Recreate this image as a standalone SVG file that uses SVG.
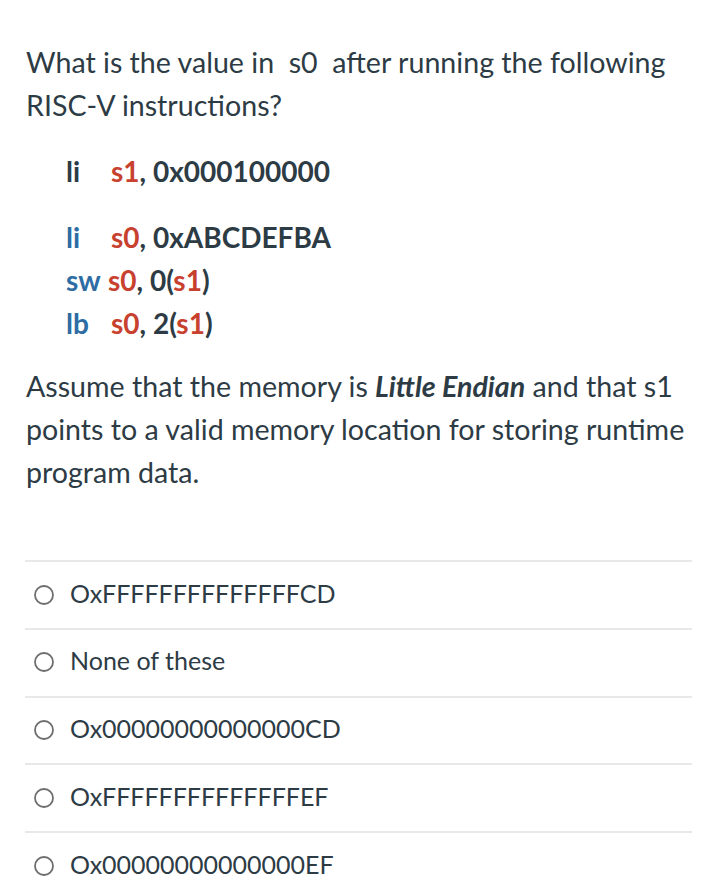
<svg xmlns="http://www.w3.org/2000/svg" width="710" height="890" viewBox="0 0 710 890">
<style>
text{font-family:Lato,"Liberation Sans",sans-serif;fill:#2d3b45}
.p{font-size:28.6px}
.c{font-size:28px;font-weight:bold}
.r{fill:#c8412f}
.b{fill:#2e6ca4}
.o{font-size:25px}
.sep{stroke:#e0e0e0;stroke-width:1.5}
.rad{fill:#fff;stroke:#6e6e6e;stroke-width:1.8}
</style>
<rect width="710" height="890" fill="#fff"/>
<text class="p" x="26" y="73" xml:space="preserve">What is the value in  s0  after running the following</text>
<text class="p" x="26" y="116">RISC-V instructions?</text>
<text class="c" x="66" y="182">li</text><text class="c" x="111" y="182"><tspan class="r">s1</tspan>, 0x000100000</text>
<text class="c b" x="66" y="248">li</text><text class="c" x="111" y="248"><tspan class="r">s0</tspan>, 0xABCDEFBA</text>
<text class="c b" x="66" y="291">sw</text><text class="c" x="108" y="291"><tspan class="r">s0</tspan>, 0(<tspan class="r">s1</tspan>)</text>
<text class="c b" x="66" y="334">lb</text><text class="c" x="111" y="334"><tspan class="r">s0</tspan>, 2(<tspan class="r">s1</tspan>)</text>
<text class="p" x="26" y="397">Assume that the memory is <tspan font-weight="bold" font-style="italic">Little Endian</tspan> and that s1</text>
<text class="p" x="26" y="440">points to a valid memory location for storing runtime</text>
<text class="p" x="26" y="483">program data.</text>
<line class="sep" x1="25" y1="561" x2="692" y2="561"/>
<line class="sep" x1="25" y1="629" x2="692" y2="629"/>
<line class="sep" x1="25" y1="697" x2="692" y2="697"/>
<line class="sep" x1="25" y1="764" x2="692" y2="764"/>
<line class="sep" x1="25" y1="832" x2="692" y2="832"/>
<circle class="rad" cx="44" cy="595" r="9"/>
<circle class="rad" cx="44" cy="662" r="9"/>
<circle class="rad" cx="44" cy="730" r="9"/>
<circle class="rad" cx="44" cy="798" r="9"/>
<circle class="rad" cx="44" cy="866" r="9"/>
<text class="o" x="70" y="603">OxFFFFFFFFFFFFFFCD</text>
<text class="o" x="70" y="670">None of these</text>
<text class="o" x="70" y="738">Ox00000000000000CD</text>
<text class="o" x="70" y="806">OxFFFFFFFFFFFFFFEF</text>
<text class="o" x="70" y="874">Ox00000000000000EF</text>
</svg>
